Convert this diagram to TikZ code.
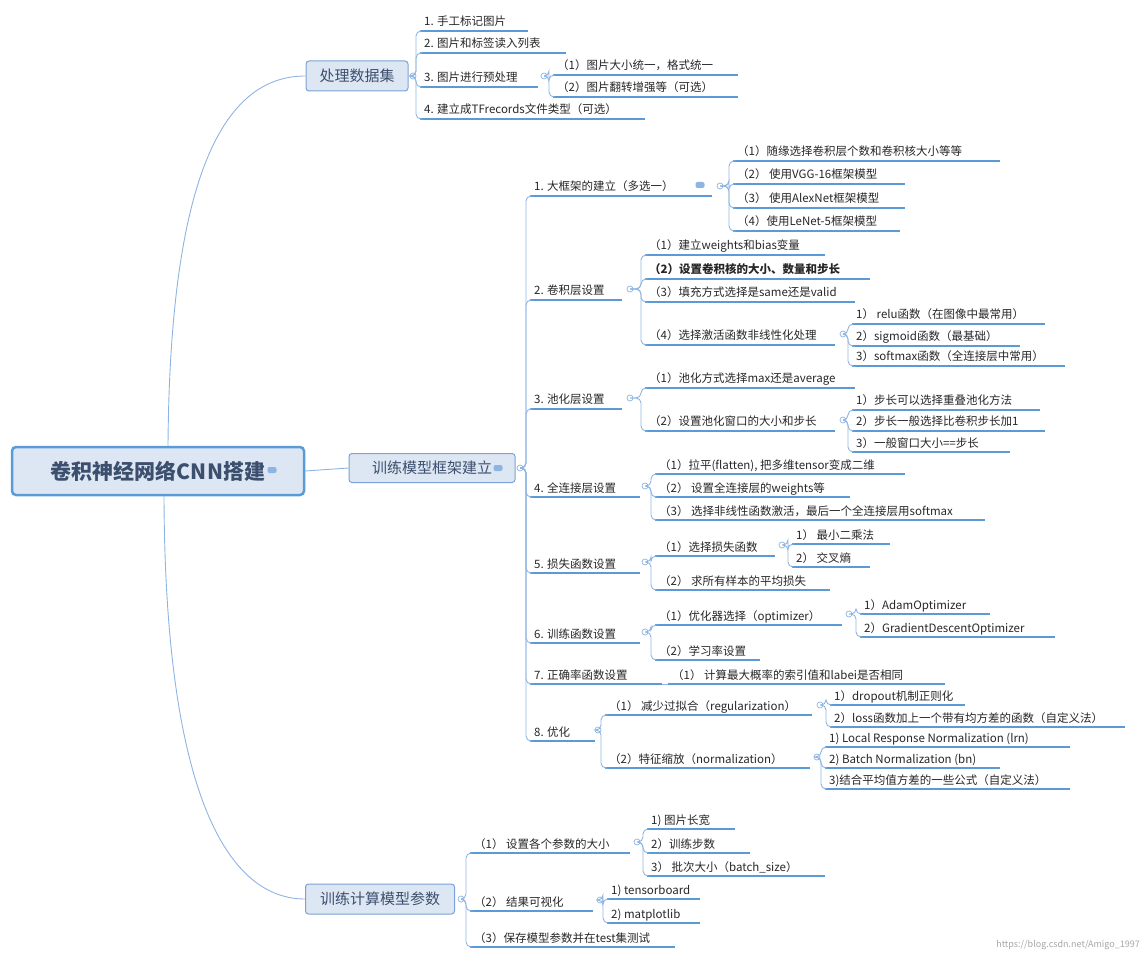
\documentclass[tikz,border=0pt]{standalone}
\usepackage{fontspec}
\setmainfont{Noto Sans CJK SC}
\usetikzlibrary{calc}
\definecolor{ul}{HTML}{5B9BD5}
\definecolor{cn}{HTML}{8DB4E2}
\definecolor{bx}{HTML}{DDE7F3}
\definecolor{bd}{HTML}{7AA2D6}
\definecolor{rt}{HTML}{3D4F6E}
\tikzset{
 uline/.style={ul,line width=1.3pt},
 conn/.style={cn,line width=0.9pt,rounded corners=5pt},
 txt/.style={inner sep=0pt,font=\fontsize{11.5}{12}\selectfont,text=black!85},
 knobst/.style={draw=cn,fill=white,line width=0.7pt},
 lvone/.style={draw=bd,fill=bx,rounded corners=3pt,line width=1pt,font=\fontsize{15}{16}\selectfont,text=rt,inner sep=0pt},
 bubble/.style={fill=cn,rounded corners=2pt,minimum width=9pt,minimum height=6pt,inner sep=0pt}
}
% name, xs, xe, yline, text
\newcommand\leaf[5]{%
 \coordinate (#1s) at (#2,#4); \coordinate (#1e) at (#3,#4);
 \draw[uline] (#1s) -- (#1e);
 \node[txt,anchor=base west] (#1) at (#2+4,#4-5) {#5};}
% name, x, y : collapse knob
\newcommand\knob[3]{\coordinate (#1) at (#2,#3); \draw[knobst] (#1) circle (3pt);}
\newcommand\br[2]{\draw[conn] (#1) -| ($(#2)+(-4,0)$) -- (#2);}
\begin{document}
\begin{tikzpicture}[x=1pt,y=-1pt]
\useasboundingbox (0,0) rectangle (1146,957);
% ---- root ----
\node[draw=ul,fill=bx,rounded corners=4pt,line width=2.5pt,minimum width=292pt,minimum height=48pt,
 font=\bfseries\fontsize{21}{22}\selectfont,text=rt] (root) at (158,471) {卷积神经网络CNN搭建\hspace{22pt}};
\node[bubble] (rb) at (272,470) {};
% ---- level one ----
\node[lvone,minimum width=102pt,minimum height=30pt] (A) at (357,76) {处理数据集};
\node[lvone,minimum width=166pt,minimum height=29pt] (B) at (432,468) {训练模型框架建立\hspace{18pt}};
\node[bubble] (bb) at (498,468) {};
\node[lvone,minimum width=149pt,minimum height=30pt] (C) at (380,899) {训练计算模型参数};
\draw[conn] (root.north) ++(10,0) coordinate (r1) .. controls (170,160) and (230,76) .. (A.west);
\draw[conn] (root.south) ++(6,0) coordinate (r2) .. controls (165,800) and (230,899) .. (C.west);
\draw[conn] (root.east) -- (B.west);
\knob{Ak}{413}{76}\knob{Bk}{520}{468}\knob{Ck}{461}{899}
% ---- 处理数据集 ----
\leaf{a1}{420}{528}{31}{1. 手工标记图片}
\leaf{a2}{420}{566}{53}{2. 图片和标签读入列表}
\leaf{a3}{420}{538}{87}{3. 图片进行预处理}
\leaf{a4}{420}{645}{119}{4. 建立成TFrecords文件类型（可选）}
\foreach \c in {a1s,a2s,a3s,a4s} {\br{Ak}{\c}}
\knob{a3k}{544}{76}
\leaf{a31}{553}{738}{75}{（1）图片大小统一，格式统一}
\leaf{a32}{553}{738}{97}{（2）图片翻转增强等（可选）}
\br{a3k}{a31s}\br{a3k}{a32s}
% ---- 训练模型框架建立 ----
\leaf{b1}{530}{712}{196}{1. 大框架的建立（多选一）}
\node[bubble] (b1b) at (700,185) {};
\leaf{b2}{530}{622}{300}{2. 卷积层设置}
\leaf{b3}{530}{622}{409}{3. 池化层设置}
\leaf{b4}{530}{640}{497}{4. 全连接层设置}
\leaf{b5}{530}{640}{573}{5. 损失函数设置}
\leaf{b6}{530}{640}{643}{6. 训练函数设置}
\leaf{b7}{530}{662}{684}{7. 正确率函数设置}
\leaf{b8}{530}{595}{741}{8. 优化}
\foreach \c in {b1s,b2s,b3s,b4s,b5s,b6s,b7s,b8s} {\br{Bk}{\c}}
% 1
\knob{b1k}{720}{186}
\leaf{b11}{733}{1000}{161}{（1）随缘选择卷积层个数和卷积核大小等等}
\leaf{b12}{733}{905}{184}{（2） 使用VGG-16框架模型}
\leaf{b13}{733}{905}{208}{（3） 使用AlexNet框架模型}
\leaf{b14}{733}{900}{231}{（4）使用LeNet-5框架模型}
\foreach \c in {b11s,b12s,b13s,b14s} {\br{b1k}{\c}}
% 2
\knob{b2k}{630}{289}
\leaf{b21}{645}{825}{255}{（1）建立weights和bias变量}
\leaf{b22}{645}{870}{279}{\bfseries（2）设置卷积核的大小、数量和步长}
\leaf{b23}{645}{855}{302}{（3）填充方式选择是same还是valid}
\leaf{b24}{645}{835}{345}{（4）选择激活函数非线性化处理}
\foreach \c in {b21s,b22s,b23s,b24s} {\br{b2k}{\c}}
\knob{b24k}{843}{334}
\leaf{b241}{852}{1045}{324}{1） relu函数（在图像中最常用）}
\leaf{b242}{852}{1020}{346}{2）sigmoid函数（最基础）}
\leaf{b243}{852}{1065}{366}{3）softmax函数（全连接层中常用）}
\foreach \c in {b241s,b242s,b243s} {\br{b24k}{\c}}
% 3
\knob{b3k}{630}{398}
\leaf{b31}{645}{855}{388}{（1）池化方式选择max还是average}
\leaf{b32}{645}{835}{431}{（2）设置池化窗口的大小和步长}
\br{b3k}{b31s}\br{b3k}{b32s}
\knob{b32k}{843}{420}
\leaf{b321}{852}{1040}{410}{1）步长可以选择重叠池化方法}
\leaf{b322}{852}{1045}{431}{2）步长一般选择比卷积步长加1}
\leaf{b323}{852}{1010}{452}{3）一般窗口大小==步长}
\foreach \c in {b321s,b322s,b323s} {\br{b32k}{\c}}
% 4
\knob{b4k}{645}{486}
\leaf{b41}{655}{905}{474}{（1）拉平(flatten), 把多维tensor变成二维}
\leaf{b42}{655}{850}{497}{（2） 设置全连接层的weights等}
\leaf{b43}{655}{985}{520}{（3） 选择非线性函数激活，最后一个全连接层用softmax}
\foreach \c in {b41s,b42s,b43s} {\br{b4k}{\c}}
% 5
\knob{b5k}{645}{562}
\leaf{b51}{655}{775}{556}{（1）选择损失函数}
\leaf{b52}{655}{830}{590}{（2） 求所有样本的平均损失}
\br{b5k}{b51s}\br{b5k}{b52s}
\knob{b51k}{782}{545}
\leaf{b511}{792}{890}{544}{1） 最小二乘法}
\leaf{b512}{792}{870}{567}{2） 交叉熵}
\br{b51k}{b511s}\br{b51k}{b512s}
% 6
\knob{b6k}{645}{632}
\leaf{b61}{655}{842}{625}{（1）优化器选择（optimizer）}
\leaf{b62}{655}{760}{660}{（2）学习率设置}
\br{b6k}{b61s}\br{b6k}{b62s}
\knob{b61k}{849}{614}
\leaf{b611}{860}{990}{614}{1）AdamOptimizer}
\leaf{b612}{860}{1055}{637}{2）GradientDescentOptimizer}
\br{b61k}{b611s}\br{b61k}{b612s}
% 7
\leaf{b71}{668}{945}{684}{（1） 计算最大概率的索引值和labei是否相同}
\draw[conn] (b7e) -- (b71s);
% 8
\knob{b8k}{598}{730}
\leaf{b81}{605}{812}{715}{（1） 减少过拟合（regularization）}
\leaf{b82}{605}{810}{768}{（2）特征缩放（normalization）}
\br{b8k}{b81s}\br{b8k}{b82s}
\knob{b81k}{820}{705}
\leaf{b811}{830}{965}{705}{1）dropout机制正则化}
\leaf{b812}{830}{1125}{727}{2）loss函数加上一个带有均方差的函数（自定义法）}
\br{b81k}{b811s}\br{b81k}{b812s}
\knob{b82k}{817}{757}
\leaf{b821}{825}{1070}{747}{1) Local Response Normalization (lrn)}
\leaf{b822}{825}{1000}{768}{2) Batch Normalization (bn)}
\leaf{b823}{825}{1070}{789}{3)结合平均值方差的一些公式（自定义法）}
\foreach \c in {b821s,b822s,b823s} {\br{b82k}{\c}}
% ---- 训练计算模型参数 ----
\leaf{c1}{470}{630}{853}{（1） 设置各个参数的大小}
\leaf{c2}{470}{593}{911}{（2） 结果可视化}
\leaf{c3}{470}{675}{947}{（3）保存模型参数并在test集测试}
\foreach \c in {c1s,c2s,c3s} {\br{Ck}{\c}}
\knob{c1k}{637}{842}
\leaf{c11}{647}{735}{829}{1) 图片长宽}
\leaf{c12}{647}{750}{853}{2）训练步数}
\leaf{c13}{647}{825}{876}{3） 批次大小（batch\_size）}
\foreach \c in {c11s,c12s,c13s} {\br{c1k}{\c}}
\knob{c2k}{600}{900}
\leaf{c21}{607}{700}{899}{1) tensorboard}
\leaf{c22}{607}{700}{923}{2) matplotlib}
\br{c2k}{c21s}\br{c2k}{c22s}
% watermark
\node[anchor=east,inner sep=0pt,font=\fontsize{9}{10}\selectfont,text=black!35] (wm) at (1140,945) {https://blog.csdn.net/Amigo\_1997};
\end{tikzpicture}
\end{document}
